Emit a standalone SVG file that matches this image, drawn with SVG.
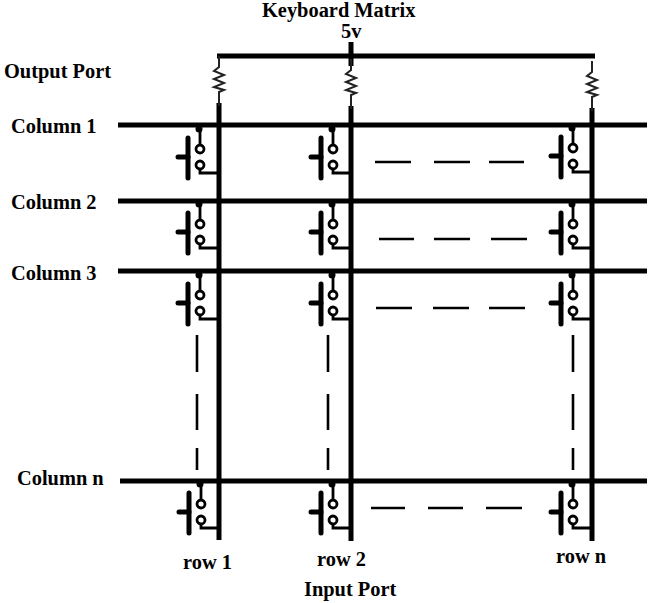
<svg xmlns="http://www.w3.org/2000/svg" width="656" height="603" viewBox="0 0 656 603">
<style>
text{font-family:"Liberation Serif","Times New Roman",serif;font-weight:700;font-size:20.4px;fill:#000}
.bus{stroke:#000;stroke-width:5;fill:none;stroke-linecap:butt}
.thin{stroke:#222;stroke-width:2;fill:none}
.dash{stroke:#000;stroke-width:2.6;fill:none}
.w{stroke:#000;stroke-width:2.8;fill:none}
.bar{stroke:#000;stroke-width:5;fill:none;stroke-linecap:round}
.ring{fill:#fff;stroke:#000;stroke-width:2.8}
</style>
<defs>
<g id="sw">
<circle cx="0" cy="0" r="3.5" fill="#000"/>
<path class="w" d="M1 0V16"/>
<circle class="ring" cx="1" cy="20" r="4"/>
<circle class="ring" cx="1" cy="36" r="4"/>
<path class="w" d="M1 40V44H20"/>
<path class="bar" d="M-11 9V49"/>
<path class="bar" d="M-21 28H-11"/>
</g>
<g id="res">
<path class="thin" d="M0 0V11L-5 15L5 19L-5 23L5 27L-5 31L5 34L0 36V50"/>
</g>
</defs>
<rect width="656" height="603" fill="#fff"/>
<g id="connectors">
<path class="bus" d="M217 56H595"/>
<path class="bus" d="M351 42V66"/>
<path class="bus" d="M219 103V540"/>
<path class="bus" d="M351 106V541"/>
<path class="bus" d="M592 108V541"/>
<path class="bus" d="M118 125H647"/>
<path class="bus" d="M118 201H647"/>
<path class="bus" d="M118 271H647"/>
<path class="bus" d="M120 481H647"/>
<use href="#res" transform="translate(219 56)"/>
<use href="#res" transform="translate(351 59)"/>
<use href="#res" transform="translate(592 61)"/>
<g class="dash">
<path d="M375 162H411M434 162H470M489 162H524"/>
<path d="M379 239H414M434 239H470M491 239H527"/>
<path d="M376 308H412M433 308H469M489 308H525"/>
<path d="M371 508H405M428 508H463M486 508H522"/>
<path d="M197 335V372M197 394V430M197 448V470"/>
<path d="M328 335V372M328 394V430M328 448V470"/>
<path d="M573 335V372M573 394V430M573 448V470"/>
</g>
</g>
<g id="sw-1-1"><use href="#sw" transform="translate(199 129)"/></g>
<g id="sw-1-2"><use href="#sw" transform="translate(332 129)"/></g>
<g id="sw-1-n"><use href="#sw" transform="translate(572 128)"/></g>
<g id="sw-2-1"><use href="#sw" transform="translate(199 204)"/></g>
<g id="sw-2-2"><use href="#sw" transform="translate(332 204)"/></g>
<g id="sw-2-n"><use href="#sw" transform="translate(572 204)"/></g>
<g id="sw-3-1"><use href="#sw" transform="translate(199 275)"/></g>
<g id="sw-3-2"><use href="#sw" transform="translate(332 275)"/></g>
<g id="sw-3-n"><use href="#sw" transform="translate(572 275)"/></g>
<g id="sw-n-1"><use href="#sw" transform="translate(200 484)"/></g>
<g id="sw-n-2"><use href="#sw" transform="translate(332 484)"/></g>
<g id="sw-n-n"><use href="#sw" transform="translate(572 484)"/></g>
<g id="labels">
<text x="262" y="17">Keyboard Matrix</text>
<text x="341" y="38">5v</text>
<text x="4" y="78">Output Port</text>
<text x="11" y="133">Column 1</text>
<text x="11" y="209">Column 2</text>
<text x="11" y="280">Column 3</text>
<text x="17" y="485">Column n</text>
<text x="183" y="569">row 1</text>
<text x="317" y="566">row 2</text>
<text x="556" y="563">row n</text>
<text x="304" y="596">Input Port</text>
</g>
</svg>
